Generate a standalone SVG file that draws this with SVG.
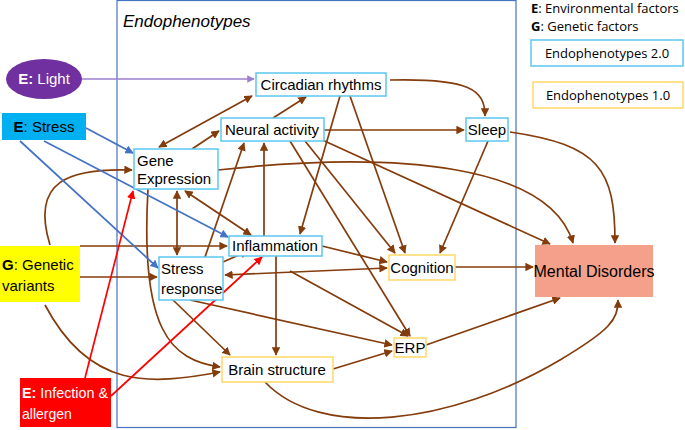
<svg xmlns="http://www.w3.org/2000/svg" width="685" height="430" viewBox="0 0 685 430">
<style>
text{font-family:"Liberation Sans",Arial,sans-serif;font-size:14px;fill:#000}
.n2{fill:#fff;stroke:#5BC8F0;stroke-width:1.5}
.n1{fill:#fff;stroke:#FFD966;stroke-width:1.5}
.e{fill:none;stroke:#843C0C;stroke-width:1.7;marker-end:url(#a)}
.d{marker-start:url(#as)}
.b{fill:none;stroke:#4472C4;stroke-width:1.7;marker-end:url(#ab)}
.r{fill:none;stroke:#FF0000;stroke-width:1.7;marker-end:url(#ar)}
.lg{font-family:"Open Sans","Liberation Sans",sans-serif;font-size:13px}
</style>
<defs>
<marker id="a" viewBox="0 0 10 10" refX="9" refY="5" markerWidth="5" markerHeight="5" orient="auto"><path d="M0,0L10,5L0,10z" fill="#843C0C"/></marker>
<marker id="as" viewBox="0 0 10 10" refX="1" refY="5" markerWidth="5" markerHeight="5" orient="auto"><path d="M10,0L0,5L10,10z" fill="#843C0C"/></marker>
<marker id="ab" viewBox="0 0 10 10" refX="9" refY="5" markerWidth="5" markerHeight="5" orient="auto"><path d="M0,0L10,5L0,10z" fill="#4472C4"/></marker>
<marker id="ar" viewBox="0 0 10 10" refX="9" refY="5" markerWidth="5" markerHeight="5" orient="auto"><path d="M0,0L10,5L0,10z" fill="#FF0000"/></marker>
<marker id="ap" viewBox="0 0 10 10" refX="9" refY="5" markerWidth="5" markerHeight="5" orient="auto"><path d="M0,0L10,5L0,10z" fill="#9D7FCE"/></marker>
</defs>
<rect x="117" y="0.5" width="399" height="427" fill="none" stroke="#4472C4" stroke-width="1.2"/>
<text x="123" y="27" style="font-style:italic;font-size:17px">Endophenotypes</text>
<g id="legend">
<text x="531" y="13" class="lg"><tspan font-weight="bold">E</tspan>: Environmental factors</text>
<text x="531" y="31" class="lg"><tspan font-weight="bold">G</tspan>: Genetic factors</text>
<rect class="n2" x="531" y="40" width="152" height="26"/><text x="607" y="58" text-anchor="middle" class="lg">Endophenotypes 2.0</text>
<rect class="n1" x="533" y="82" width="150" height="26"/><text x="608" y="100" text-anchor="middle" class="lg">Endophenotypes 1.0</text>
</g>
<g id="connectors">
<path d="M82,79H254" fill="none" stroke="#9D7FCE" stroke-width="1.5" marker-end="url(#ap)"/>
<path class="e" d="M390,80C470,78 485,90 485,116"/>
<path class="e d" d="M159,147L252,96"/>
<path class="e" d="M192,149L219,131"/>
<path class="e" d="M273,118L306,97"/>
<path class="e" d="M324,130H464"/>
<path class="e" d="M510,132C600,145 615,170 615,243"/>
<path class="e" d="M218,170C400,150 550,165 573,243"/>
<path class="e" d="M318,138L550,244"/>
<path class="e" d="M340,96L300,234"/>
<path class="e" d="M350,96L405,253"/>
<path class="e" d="M305,141L395,253"/>
<path class="e" d="M290,141L410,336"/>
<path class="e" d="M488,141L440,253"/>
<path class="e d" d="M177,191V255"/>
<path class="e d" d="M185,191L251,235"/>
<path class="e" d="M205,257L244,143"/>
<path class="e" d="M264,236V143"/>
<path class="e" d="M223,262L248,251"/>
<path class="e" d="M322,246L387,262"/>
<path class="e d" d="M387,268L225,275"/>
<path class="e" d="M455,267H533"/>
<path class="e" d="M290,271L408,336"/>
<path class="e" d="M276,256V355"/>
<path class="e" d="M190,300L392,345"/>
<path class="e" d="M173,300L230,355"/>
<path class="e" d="M148,189C140,330 170,360 220,367"/>
<path class="e" d="M333,369L392,351"/>
<path class="e" d="M426,345L560,298"/>
<path class="e" d="M265,382C320,440 450,425 560,360C610,330 618,320 618,300"/>
<path class="e" d="M50,245C30,180 70,168 132,170"/>
<path class="e" d="M80,246H227"/>
<path class="e" d="M80,277H157"/>
<path class="e" d="M45,305C90,390 150,385 220,372"/>
<path class="b" d="M86,128L133,153"/>
<path class="b" d="M44,141L228,237"/>
<path class="b" d="M20,141L158,268"/>
<path class="r" d="M85,378L133,191"/>
<path class="r" d="M111,396L262,257"/>
</g>
<g id="light"><ellipse cx="44" cy="79" rx="38" ry="20" fill="#7030A0"/><text x="44" y="84" text-anchor="middle" style="fill:#fff;font-size:15px"><tspan font-weight="bold">E:</tspan> Light</text></g>
<g id="stress"><rect x="2" y="113" width="84" height="27" fill="#00B0F0"/><text x="44" y="132" text-anchor="middle" style="font-size:15px"><tspan font-weight="bold">E</tspan>: Stress</text></g>
<g id="genetic"><rect x="0" y="246" width="80" height="56" fill="#FFFF00"/><text x="2" y="270" style="font-size:15px"><tspan font-weight="bold">G</tspan>: Genetic</text><text x="2" y="291" style="font-size:15px">variants</text></g>
<g id="infection"><rect x="20" y="378" width="91" height="49" fill="#FF0000"/><text x="22" y="398" style="fill:#fff;font-size:14px" textLength="86" lengthAdjust="spacingAndGlyphs"><tspan font-weight="bold">E:</tspan> Infection &amp;</text><text x="22" y="419" style="fill:#fff;font-size:14px">allergen</text></g>
<g id="mental"><rect x="535" y="245" width="118" height="52" fill="#F4A08A"/><text x="594" y="277" text-anchor="middle" style="font-size:16px">Mental Disorders</text></g>
<g id="circadian"><rect class="n2" x="256" y="73" width="130" height="23"/><text x="321" y="90" text-anchor="middle" style="font-size:15px">Circadian rhythms</text></g>
<g id="neural"><rect class="n2" x="221" y="118" width="103" height="23"/><text x="272" y="135" text-anchor="middle" style="font-size:15px">Neural activity</text></g>
<g id="sleep"><rect class="n2" x="466" y="118" width="42" height="23"/><text x="487" y="135" text-anchor="middle" style="font-size:15px">Sleep</text></g>
<g id="gene"><rect class="n2" x="134" y="149" width="84" height="40"/><text x="137" y="166" style="font-size:15px">Gene</text><text x="137" y="184" style="font-size:15px">Expression</text></g>
<g id="inflammation"><rect class="n2" x="229" y="236" width="93" height="20"/><text x="275" y="251" text-anchor="middle" style="font-size:15px">Inflammation</text></g>
<g id="stressresp"><rect class="n2" x="159" y="257" width="64" height="43"/><text x="161" y="274" style="font-size:15px">Stress</text><text x="161" y="294" style="font-size:15px">response</text></g>
<g id="cognition"><rect class="n1" x="389" y="255" width="66" height="25"/><text x="422" y="273" text-anchor="middle" style="font-size:15px">Cognition</text></g>
<g id="erp"><rect class="n1" x="394" y="338" width="32" height="19"/><text x="410" y="353" text-anchor="middle" style="font-size:15px">ERP</text></g>
<g id="brain"><rect class="n1" x="222" y="357" width="111" height="25"/><text x="277" y="375" text-anchor="middle" style="font-size:15px">Brain structure</text></g>
</svg>
